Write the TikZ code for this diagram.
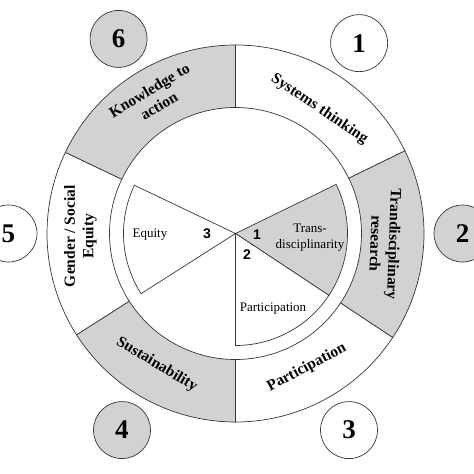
\documentclass[tikz,border=0pt]{standalone}
\usepackage{fontspec}
\setmainfont{Liberation Serif}
\setsansfont{Liberation Sans}

\definecolor{ringgray}{RGB}{210,210,210}
\definecolor{linegray}{RGB}{55,55,55}

\tikzset{
  seg/.style={draw=linegray, line width=0.7pt},
  numcirc/.style={circle, draw=linegray, line width=0.7pt, minimum size=57pt, inner sep=0pt,
    font=\bfseries\fontsize{27}{30}\selectfont},
  ringlabel/.style={font=\bfseries\fontsize{15.5}{18.5}\selectfont, align=center, inner sep=0pt},
  pielabel/.style={font=\fontsize{13}{16}\selectfont, align=center, inner sep=0pt},
  pienum/.style={font=\sffamily\bfseries\fontsize{14}{16}\selectfont, inner sep=0pt},
}

\begin{document}
\begin{tikzpicture}
      \useasboundingbox (-235.5pt,-240.5pt) rectangle (238.5pt,233.5pt);
      \coordinate (c) at (0,0);
      % outer ring, six segments
      \foreach \a/\b/\col in {90/26/white, 26/-33.5/ringgray, -33.5/-90/white,
                              -90/-147.5/ringgray, -147.5/-205.5/white, -205.5/-270/ringgray} {
        \draw[seg, fill=\col] (\a:126pt) -- (\a:188.5pt)
          arc[start angle=\a, end angle=\b, radius=188.5pt] -- (\b:126pt)
          arc[start angle=\b, end angle=\a, radius=126pt] -- cycle;
      }
      % numbered circles
      \foreach \n/\ang/\col in {1/57/white, 2/0/ringgray, 3/-60/white,
                                4/-120/ringgray, 5/180/white, 6/121/ringgray} {
        \node[numcirc, fill=\col] (num\n) at (\ang:227pt) {\n};
      }
      % inner pie
      \draw[seg, fill=ringgray] (c) -- (26:112pt) arc[start angle=26, end angle=-33.5, radius=112pt] -- cycle;
      \draw[seg, fill=white] (c) -- (-33.5:112pt) arc[start angle=-33.5, end angle=-90, radius=112pt] -- cycle;
      \draw[seg, fill=white] (c) -- (154.5:112pt) arc[start angle=154.5, end angle=212.5, radius=112pt] -- cycle;
      % ring labels
      \node[ringlabel, rotate=-34] (systems) at (56:150pt) {Systems thinking};
      \node[ringlabel, rotate=-92] (trandis) at (-4:150pt) {Trandisciplinary\\research};
      \node[ringlabel, rotate=28] (partring) at (-62:152pt) {Participation};
      \node[ringlabel, rotate=-31] (sustain) at (239:153pt) {Sustainability};
      \node[ringlabel, rotate=90] (gender) at (181:155pt) {Gender / Social\\Equity};
      \node[ringlabel, rotate=31] (knowledge) at (121:158pt) {Knowledge to\\action};
      % pie labels
      \node[pielabel] (equity) at (-85.5pt,-1.5pt) {Equity};
      \node[pielabel] (transpie) at (74.5pt,-4.5pt) {Trans-\\disciplinarity};
      \node[pielabel] (partpie) at (37.5pt,-75.5pt) {Participation};
      \node[pienum] (pie1) at (21.5pt,-1.5pt) {1};
      \node[pienum] (pie2) at (11.5pt,-21.5pt) {2};
      \node[pienum] (pie3) at (-28.5pt,-0.5pt) {3};
\end{tikzpicture}
\end{document}
